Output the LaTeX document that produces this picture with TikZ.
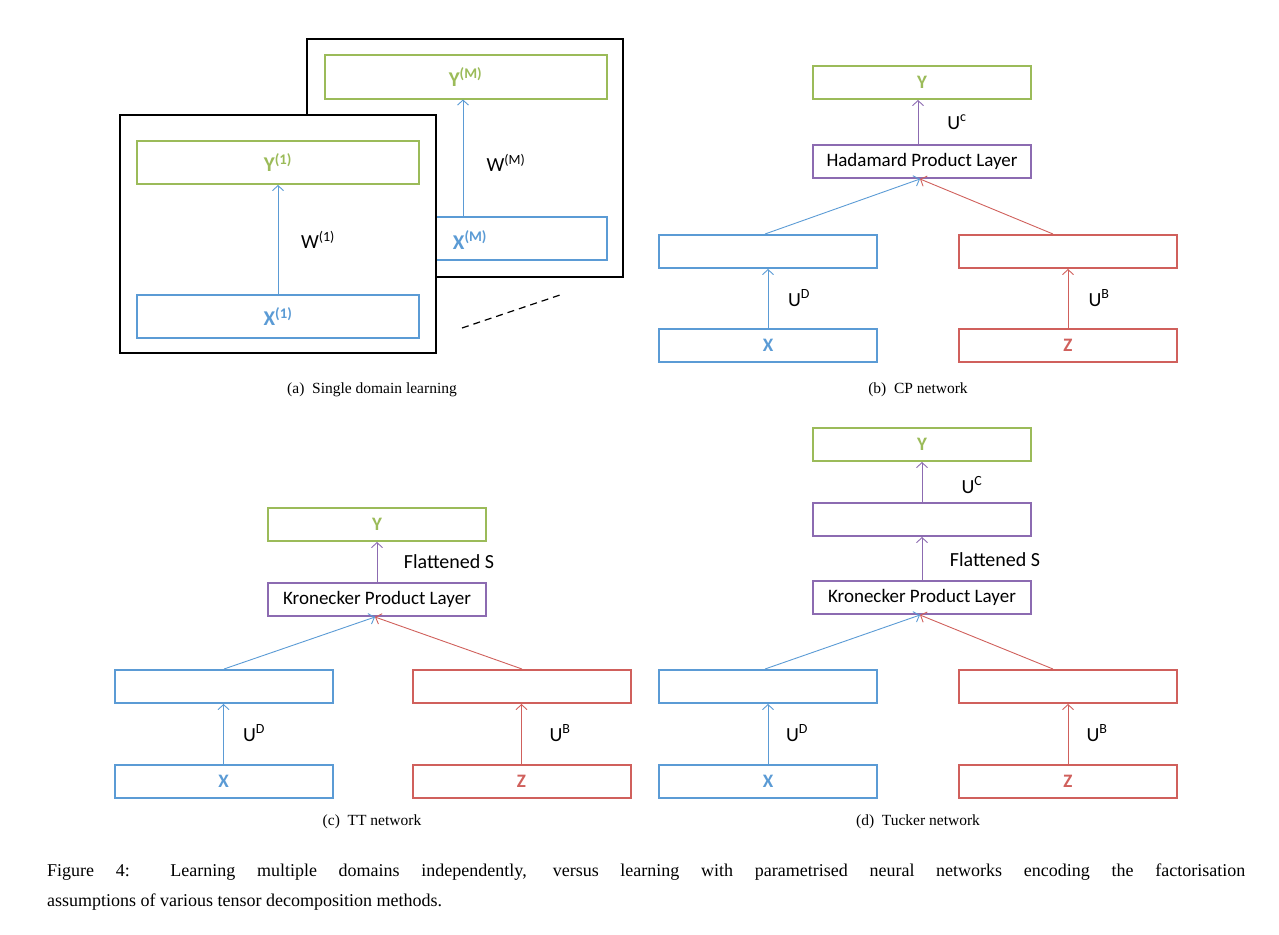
\documentclass[tikz,border=0pt]{standalone}
\usepackage{fontspec}
\setmainfont{Liberation Serif}
\newfontfamily\boxfont{Carlito}
\usetikzlibrary{arrows.meta}
\definecolor{cblue}{HTML}{5B9BD5}
\definecolor{cgreen}{HTML}{9BBB59}
\definecolor{cred}{HTML}{D0605C}
\definecolor{cpurple}{HTML}{8C6BB1}
\tikzstyle{arrow} = [line width=0.9pt,-{Straight Barb[length=5pt,width=11pt]}]
\begin{document}
\begin{tikzpicture}
        [
            x=1pt,y=-1pt,
            box/.style={rectangle,draw,line width=2pt,fill=white,minimum width=218pt,minimum height=33pt,inner sep=0pt,font=\boxfont\fontsize{19}{19}\selectfont},
            big/.style={box,minimum width=282pt,minimum height=43pt,font=\boxfont\fontsize{21}{21}\selectfont},
            frame/.style={rectangle,draw=black,line width=1.2pt,fill=white,minimum width=316pt,minimum height=238pt,inner sep=0pt},
            lbl/.style={font=\boxfont\fontsize{20}{20}\selectfont},
            subcap/.style={font=\fontsize{15.5}{15.5}\selectfont},
        ]
    \useasboundingbox (0,0) rectangle (1279,934);

    % (a) single domain
    \node[frame] (fM) at (465,158){};
    \node[big,draw=cgreen,text=cgreen] (yM) at (465.5,77){\textbf{Y\textsuperscript{(M)}}};
    \node[big,draw=cblue,text=cblue] (xM) at (465.5,238.5){};
    \draw[arrow,cblue] (463,217) -- (yM.south -| 463,0);
    \node[lbl] (wM) at (506,163){W\textsuperscript{(M)}};
    \node[frame] (f1) at (278,234){};
    \node[text=cblue,font=\boxfont\fontsize{21}{21}\selectfont] (xMt) at (470,240){\textbf{X\textsuperscript{(M)}}};
    \node[big,draw=cgreen,text=cgreen] (y1) at (278,162.5){\textbf{Y\textsuperscript{(1)}}};
    \node[big,draw=cblue,text=cblue] (x1) at (278,316.5){\textbf{X\textsuperscript{(1)}}};
    \draw[arrow,cblue] (x1) -- (y1);
    \node[lbl] (w1) at (318,240){W\textsuperscript{(1)}};
    \coordinate (d1) at (462,328);
    \coordinate (d2) at (560,295);
    \draw[line width=1.2pt,dash pattern=on 7pt off 5pt] (d1) -- (d2);
    \node[subcap] (capa) at (372,390){(a)\ \ Single domain learning};

    % (b) CP network
    \node[box,draw=cgreen,text=cgreen] (by) at (922,82.5){\textbf{Y}};
    \node[box,draw=cpurple] (bh) at (922,161.5){Hadamard Product Layer};
    \node[box,draw=cblue] (bl) at (768,251.5){};
    \node[box,draw=cred] (br) at (1068,251.5){};
    \node[box,draw=cblue,text=cblue] (bx) at (768,345.5){\textbf{X}};
    \node[box,draw=cred,text=cred] (bz) at (1068,345.5){\textbf{Z}};
    \draw[arrow,cpurple] (bh.north -| 918,0) -- (by.south -| 918,0);
    \draw[arrow,cblue] (bl.north -| 765,0) -- (bh.south -| 920,0);
    \draw[arrow,cred] (br.north -| 1053,0) -- (bh.south -| 920,0);
    \draw[arrow,cblue] (bx) -- (bl);
    \draw[arrow,cred] (bz) -- (br);
    \node[lbl] (buc) at (957,122){U\textsuperscript{c}};
    \node[lbl] (bud) at (799,298){U\textsuperscript{D}};
    \node[lbl] (bub) at (1099,298){U\textsuperscript{B}};
    \node[subcap] (capb) at (918,390){(b)\ \ CP network};

    % (c) TT network
    \node[box,draw=cgreen,text=cgreen] (cy) at (377,524.5){\textbf{Y}};
    \node[box,draw=cpurple] (ck) at (377,599.5){Kronecker Product Layer};
    \node[box,draw=cblue] (cl) at (223.5,686.5){};
    \node[box,draw=cred] (cr) at (521.5,686.5){};
    \node[box,draw=cblue,text=cblue] (cx) at (223.5,781.5){\textbf{X}};
    \node[box,draw=cred,text=cred] (cz) at (521.5,781.5){\textbf{Z}};
    \draw[arrow,cpurple] (ck) -- (cy);
    \draw[arrow,cblue] (cl.north -| 224,0) -- (ck.south -| 375,0);
    \draw[arrow,cred] (cr.north -| 522,0) -- (ck.south -| 375,0);
    \draw[arrow,cblue] (cx) -- (cl);
    \draw[arrow,cred] (cz) -- (cr);
    \node[lbl] (cfs) at (449,562){Flattened S};
    \node[lbl] (cud) at (254,733){U\textsuperscript{D}};
    \node[lbl] (cub) at (560,733){U\textsuperscript{B}};
    \node[subcap] (capc) at (372,822){(c)\ \ TT network};

    % (d) Tucker network
    \node[box,draw=cgreen,text=cgreen] (dy) at (922,444.5){\textbf{Y}};
    \node[box,draw=cpurple] (de) at (922,519.5){};
    \node[box,draw=cpurple] (dk) at (922,597.5){Kronecker Product Layer};
    \node[box,draw=cblue] (dl) at (768,686.5){};
    \node[box,draw=cred] (dr) at (1068,686.5){};
    \node[box,draw=cblue,text=cblue] (dx) at (768,781.5){\textbf{X}};
    \node[box,draw=cred,text=cred] (dz) at (1068,781.5){\textbf{Z}};
    \draw[arrow,cpurple] (de) -- (dy);
    \draw[arrow,cpurple] (dk) -- (de);
    \draw[arrow,cblue] (dl.north -| 765,0) -- (dk.south -| 920,0);
    \draw[arrow,cred] (dr.north -| 1053,0) -- (dk.south -| 920,0);
    \draw[arrow,cblue] (dx) -- (dl);
    \draw[arrow,cred] (dz) -- (dr);
    \node[lbl] (duc) at (972,485){U\textsuperscript{C}};
    \node[lbl] (dfs) at (995,560){Flattened S};
    \node[lbl] (dud) at (797,733){U\textsuperscript{D}};
    \node[lbl] (dub) at (1097,733){U\textsuperscript{B}};
    \node[subcap] (capd) at (918,822){(d)\ \ Tucker network};

    % figure caption
    \node[anchor=north west,text width=1198pt,align=justify,inner sep=0pt,font=\fontsize{18}{30}\selectfont] (fig) at (47,864){Figure 4: Learning multiple domains independently, versus learning with parametrised neural networks encoding the factorisation\linebreak assumptions of various tensor decomposition methods.};
\end{tikzpicture}
\end{document}
